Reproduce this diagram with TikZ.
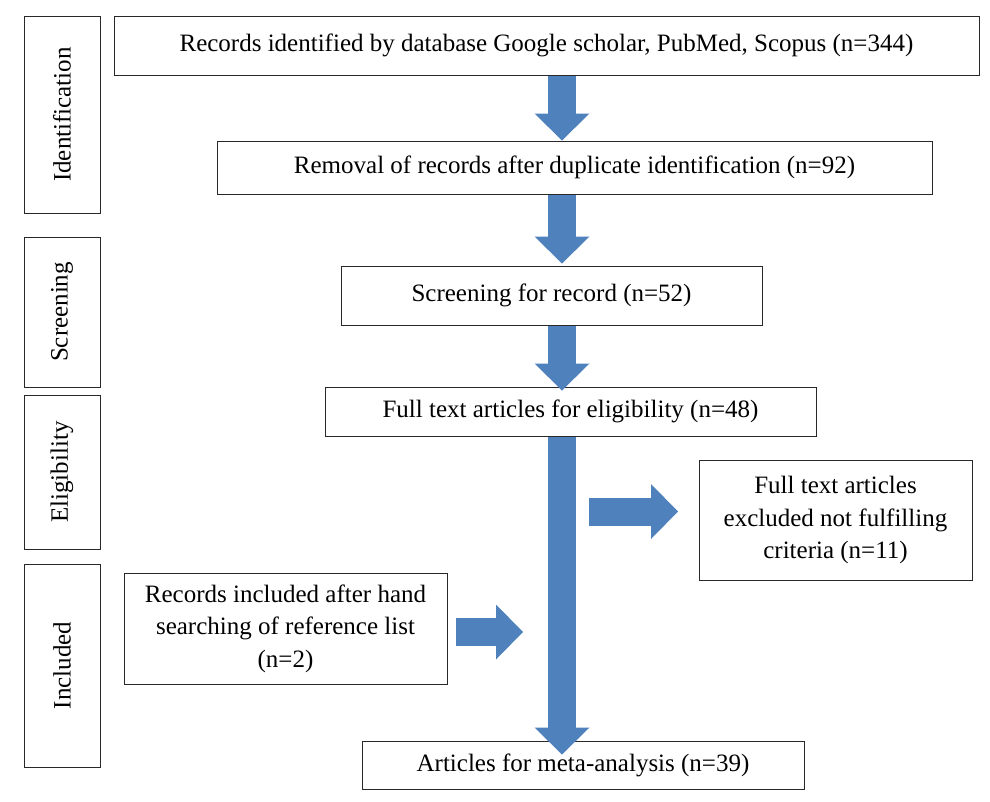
\documentclass[tikz,border=0pt]{standalone}
\usepackage{fontspec}
\newfontfamily\tnr{Liberation Serif}
\usetikzlibrary{arrows.meta}
\definecolor{arrowblue}{RGB}{79,129,189}
\definecolor{boxline}{RGB}{40,40,40}
\tikzset{
  box/.style={draw=boxline, line width=1pt, fill=white, inner sep=0pt, align=center,
    font=\tnr\fontsize{25}{32.5}\selectfont},
  phase/.style={box, rotate=90},
  blockarrow/.style={draw=arrowblue, line width=28pt, line cap=butt,
    -{Triangle[width=55pt,length=27pt,line width=0pt]}},
}
\begin{document}
\begin{tikzpicture}[x=1pt,y=-1pt]
\useasboundingbox (0,0) rectangle (990,801);
% phase labels
\node[phase, minimum width=197, minimum height=76] (idl) at (62,114.5) {Identification};
\node[phase, minimum width=150, minimum height=76] (scl) at (62,312) {Screening};
\node[phase, minimum width=154, minimum height=76] (ell) at (62,472) {Eligibility};
\node[phase, minimum width=203, minimum height=76] (inl) at (62,665.5) {Included};
% flow boxes
\coordinate (ax) at (562,0);
\node[box, minimum width=865, minimum height=59] (b1) at (546.5,45.5) {Records identified by database Google scholar, PubMed, Scopus (n=344)};
\node[box, minimum width=715, minimum height=53] (b2) at (574.5,167.5) {Removal of records after duplicate identification (n=92)};
\node[box, minimum width=421, minimum height=59] (b3) at (551.5,295.5) {Screening for record (n=52)};
\node[box, minimum width=491, minimum height=49] (b4) at (570.5,411.5) {Full text articles for eligibility (n=48)};
\node[box, minimum width=273, minimum height=120] (b5) at (835.5,520) {Full text articles\\excluded not fulfilling\\criteria (n=11)};
\node[box, minimum width=323, minimum height=111] (b6) at (285.5,628.5) {Records included after hand\\searching of reference list\\(n=2)};
\node[box, minimum width=442, minimum height=48] (b7) at (583,765) {Articles for meta-analysis (n=39)};
% block arrows
\draw[blockarrow] (b1.south -| ax) -- (b2.north -| ax);
\draw[blockarrow] (b2.south -| ax) -- ([yshift=2pt]b3.north -| ax);
\draw[blockarrow] (b3.south -| ax) -- ([yshift=-4pt]b4.north -| ax);
\draw[blockarrow] (b4.south -| ax) -- ([yshift=-14pt]b7.north -| ax);
\coordinate (r1) at (589,511.5);
\coordinate (r2) at (678,511.5);
\draw[blockarrow] (r1) -- (r2);
\coordinate (l1) at (456,632);
\coordinate (l2) at (523,632);
\draw[blockarrow] (l1) -- (l2);
\end{tikzpicture}
\end{document}
